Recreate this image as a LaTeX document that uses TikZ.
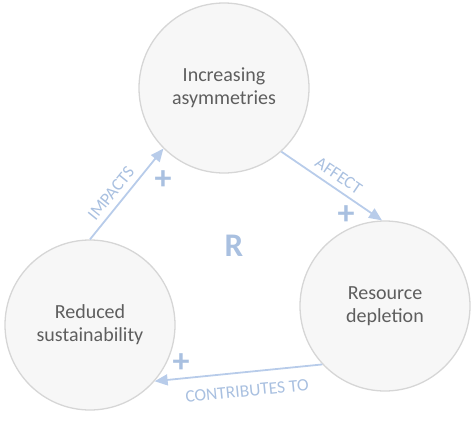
\documentclass[tikz,border=0pt]{standalone}
\usepackage{fontspec}
\setmainfont{Carlito}
\usetikzlibrary{arrows.meta,positioning}
\definecolor{ringgray}{HTML}{D6D6D6}
\definecolor{ringfill}{HTML}{F7F7F7}
\definecolor{linkblue}{HTML}{B8CCEA}
\definecolor{labelblue}{HTML}{A9C0E0}
\definecolor{textgray}{HTML}{5E5E5E}

\begin{document}
\begin{tikzpicture}[x=1pt,y=-1pt,
every node/.style={inner sep=0pt},
loopnode/.style={circle,draw=ringgray,line width=1.3pt,fill=ringfill,
  minimum size=170pt,align=center,text=textgray,
  font=\fontsize{20}{23}\selectfont},
link/.style={draw=linkblue,line width=1.8pt,-{Triangle[length=13pt,width=11pt]}},
linklabel/.style={text=labelblue,font=\fontsize{17.5}{20}\selectfont},
signnode/.style={text=labelblue,font=\bfseries\fontsize{34}{34}\selectfont}]
\useasboundingbox (0,0) rectangle (474,423);
\node[loopnode] (ia) at (224,88) {Increasing\\asymmetries};
\node[loopnode] (rd) at (385,306) {Resource\\depletion};
\node[loopnode] (rs) at (90,325) {Reduced\\sustainability};
\node[text=labelblue,font=\bfseries\fontsize{33}{33}\selectfont] (loop) at (234,246) {R};
\draw[link] (rs.90) -- node[linklabel,pos=0.42,sloped,above=6pt] (impacts) {IMPACTS} (ia.225);
\draw[link] (ia.-48) -- node[linklabel,pos=0.5,sloped,above=6pt] (affect) {AFFECT} (rd.92);
\draw[link] (rd.223.6) -- node[linklabel,pos=0.46,sloped,below=12pt] (contrib) {CONTRIBUTES TO} (rs.-41.7);
\node[signnode] (s1) at (163,180) {+};
\node[signnode] (s2) at (346,215) {+};
\node[signnode] (s3) at (181,363) {+};
\end{tikzpicture}
\end{document}
